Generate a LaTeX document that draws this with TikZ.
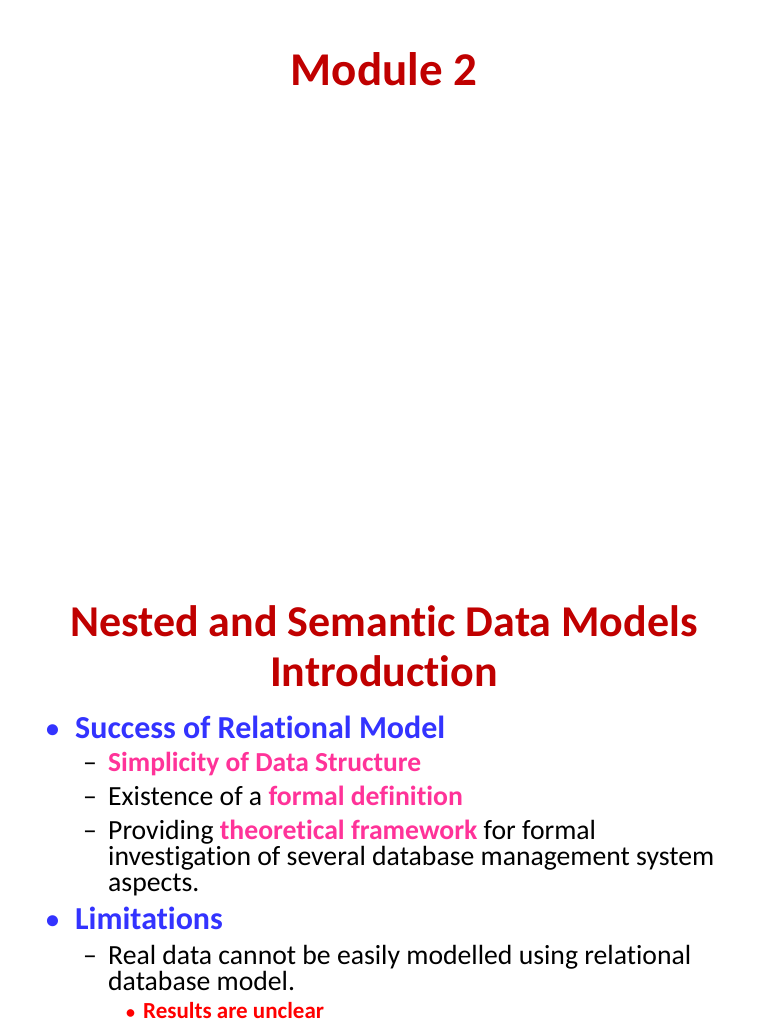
\documentclass[tikz,border=0pt]{standalone}
\usepackage{fontspec}
\setmainfont[Ligatures=NoCommon]{Carlito}
\definecolor{dred}{HTML}{C00000}
\definecolor{bblue}{HTML}{3333FF}
\definecolor{pink}{HTML}{FF3399}
\tikzset{t/.style={anchor=base west,inner sep=0pt},
 c/.style={anchor=base,inner sep=0pt,text=dred,font=\bfseries\fontsize{44}{48}\selectfont},
 l1/.style={t,text=bblue,font=\bfseries\fontsize{32}{36}\selectfont},
 l2/.style={t,font=\fontsize{27.7}{30}\selectfont},
 l3/.style={t,text=red,font=\bfseries\fontsize{23}{26}\selectfont}}
\begin{document}
\begin{tikzpicture}[x=1pt,y=1pt]
\useasboundingbox[fill=white] (0,0) rectangle (768,-1024);
\node[c,font=\bfseries\fontsize{47}{50}\selectfont] (m) at (384,-86) {Module 2};
\node[c] (n) at (384,-636) {Nested and Semantic Data Models};
\node[c] (i) at (384,-686) {Introduction};
\node[l1,font=\bfseries\fontsize{26}{30}\selectfont] (b1) at (46,-737) {•};
\node[l1] (s) at (75,-738) {Success of Relational Model};
\node[l2] (d1) at (83,-771) {–};
\node[l2,text=pink,font=\bfseries\fontsize{27.5}{30}\selectfont] (s1) at (108,-771) {Simplicity of Data Structure};
\node[l2] (d2) at (83,-805) {–};
\node[l2] (s2) at (108,-805) {Existence of a \textcolor{pink}{\bfseries formal definition}};
\node[l2] (d3) at (83,-839) {–};
\node[l2] (s3) at (108,-839) {Providing \textcolor{pink}{\bfseries theoretical framework} for formal};
\node[l2] (s3b) at (108,-865) {investigation of several database management system};
\node[l2] (s3c) at (108,-891) {aspects.};
\node[l1,font=\bfseries\fontsize{26}{30}\selectfont] (b2) at (46,-928) {•};
\node[l1] (lim) at (75,-929) {Limitations};
\node[l2] (d4) at (83,-964) {–};
\node[l2] (r1) at (108,-964) {Real data cannot be easily modelled using relational};
\node[l2] (r1b) at (108,-990) {database model.};
\node[l3,font=\bfseries\fontsize{18}{20}\selectfont] (b3) at (126,-1018) {•};
\node[l3] (r2) at (143,-1018) {Results are unclear};
\end{tikzpicture}
\end{document}
